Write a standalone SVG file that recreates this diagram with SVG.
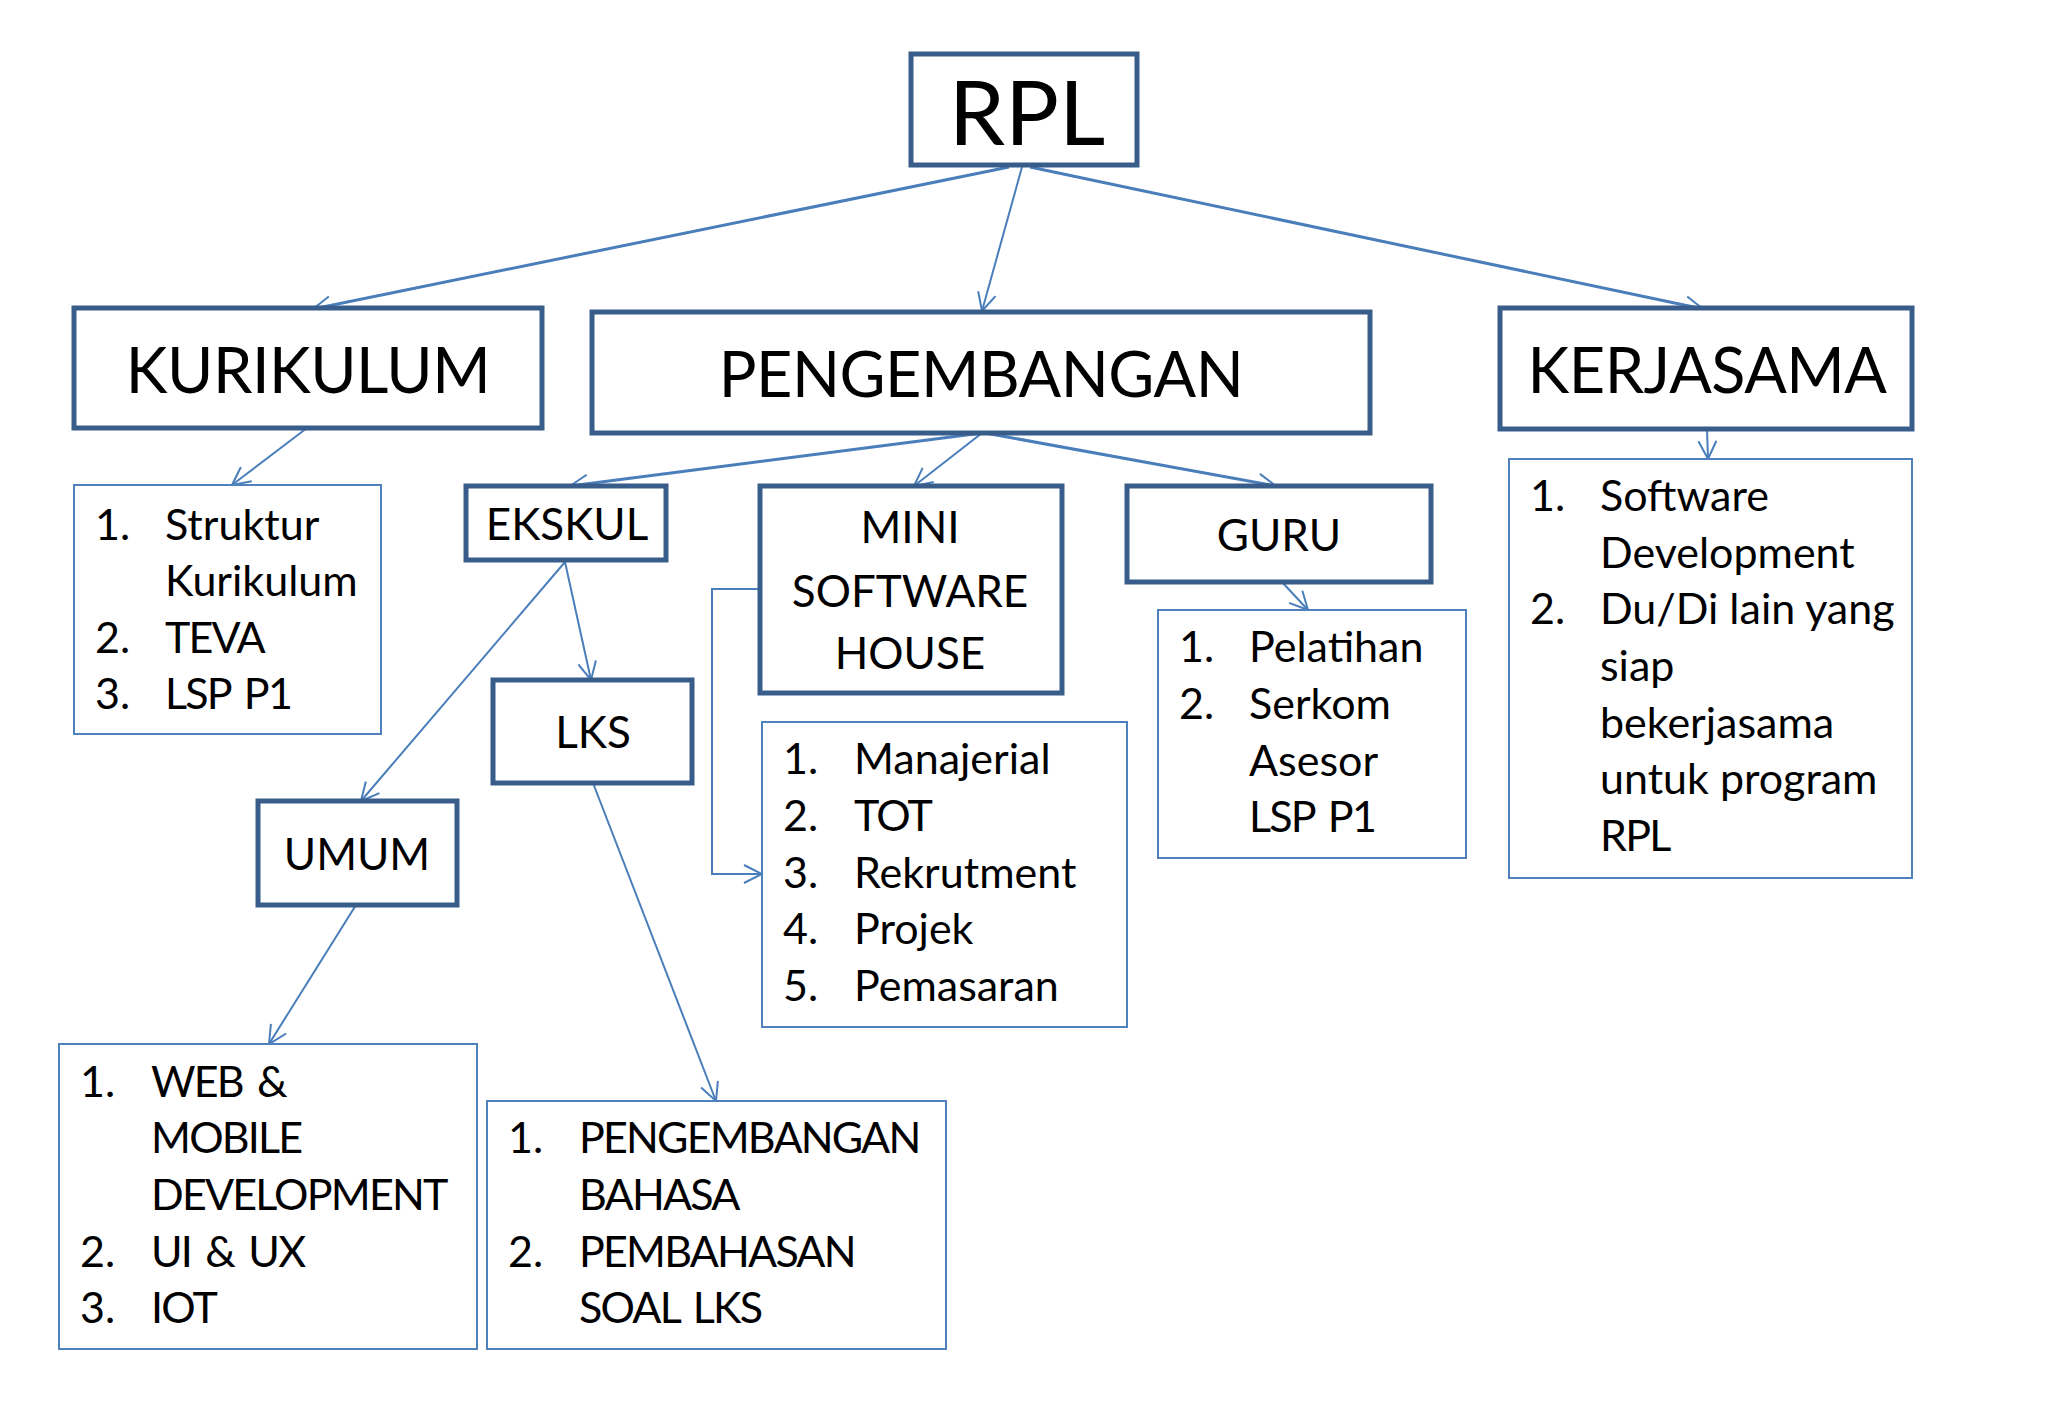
<svg xmlns="http://www.w3.org/2000/svg" width="2048" height="1418" viewBox="0 0 2048 1418">
<style>
.bg{fill:#ffffff}
.thick{fill:#ffffff;stroke:#385D8A;stroke-width:5}
.thin{fill:#ffffff;stroke:#4F81BD;stroke-width:2}
text{font-family:Lato,"Open Sans","Liberation Sans",sans-serif;fill:#000000}
.h{font-size:63px;text-anchor:middle;letter-spacing:-0.5px}
.m{font-size:44px;text-anchor:middle}
.l{font-size:43px}
.u{letter-spacing:-1.8px;word-spacing:5px}
.c{fill:none;stroke:#4A7EBB;stroke-width:2;marker-end:url(#arr)}
.ct{fill:none;stroke:#4A7EBB;stroke-width:3;marker-end:url(#arr)}
</style>
<defs>
<marker id="arr" viewBox="0 0 20 20" refX="19" refY="10" markerWidth="20" markerHeight="20" markerUnits="userSpaceOnUse" orient="auto">
<path d="M1,1 L19,10 L1,19" fill="none" stroke="#4A7EBB" stroke-width="2"/>
</marker>
</defs>
<rect class="bg" x="0" y="0" width="2048" height="1418"/>
<g id="connectors">
<line class="ct" x1="1009" y1="167" x2="313" y2="309"/>
<line class="c" x1="1022" y1="167" x2="982" y2="311"/>
<line class="ct" x1="1030" y1="167" x2="1703" y2="309"/>
<line class="c" x1="307" y1="428" x2="232" y2="485"/>
<line class="ct" x1="982" y1="433" x2="570" y2="486"/>
<line class="c" x1="982" y1="433" x2="914" y2="486"/>
<line class="ct" x1="985" y1="433" x2="1276" y2="486"/>
<line class="c" x1="1707" y1="429" x2="1708" y2="459"/>
<line class="c" x1="1282" y1="582" x2="1308" y2="610"/>
<line class="c" x1="565" y1="562" x2="361" y2="801"/>
<line class="c" x1="565" y1="562" x2="591" y2="680"/>
<line class="c" x1="356" y1="905" x2="269" y2="1044"/>
<line class="c" x1="593" y1="783" x2="716" y2="1101"/>
<polyline class="c" points="760,589 712,589 712,874 762,874"/>
</g>
<g id="rpl">
<rect class="thick" x="911" y="54" width="226" height="111"/>
<text x="1027" y="145" style="font-size:90px;text-anchor:middle">RPL</text>
</g>
<g id="kurikulum">
<rect class="thick" x="74" y="308" width="468" height="120"/>
<text class="h" x="308" y="393">KURIKULUM</text>
</g>
<g id="pengembangan">
<rect class="thick" x="592" y="312" width="778" height="121"/>
<text class="h" x="981" y="397">PENGEMBANGAN</text>
</g>
<g id="kerjasama">
<rect class="thick" x="1500" y="308" width="412" height="121"/>
<text class="h" x="1707" y="393">KERJASAMA</text>
</g>
<g id="kurikulum-list">
<rect class="thin" x="74" y="485" width="307" height="249"/>
<text class="l" x="95" y="540">1.</text><text class="l" x="165" y="540">Struktur</text>
<text class="l" x="165" y="596">Kurikulum</text>
<text class="l" x="95" y="653">2.</text><text class="l u" x="165" y="653">TEVA</text>
<text class="l" x="95" y="709">3.</text><text class="l u" x="165" y="709">LSP P1</text>
</g>
<g id="ekskul">
<rect class="thick" x="466" y="486" width="200" height="74"/>
<text class="m" x="567" y="540">EKSKUL</text>
</g>
<g id="msh">
<rect class="thick" x="760" y="486" width="302" height="207"/>
<text class="m" x="910" y="543">MINI</text>
<text class="m" x="910" y="607">SOFTWARE</text>
<text class="m" x="910" y="669">HOUSE</text>
</g>
<g id="guru">
<rect class="thick" x="1127" y="486" width="304" height="96"/>
<text class="m" x="1279" y="551">GURU</text>
</g>
<g id="lks">
<rect class="thick" x="493" y="680" width="199" height="103"/>
<text class="m" x="593" y="748">LKS</text>
</g>
<g id="umum">
<rect class="thick" x="258" y="801" width="199" height="104"/>
<text class="m" x="357" y="870">UMUM</text>
</g>
<g id="msh-list">
<rect class="thin" x="762" y="722" width="365" height="305"/>
<text class="l" x="783" y="774">1.</text><text class="l" x="854" y="774">Manajerial</text>
<text class="l" x="783" y="831">2.</text><text class="l u" x="854" y="831">TOT</text>
<text class="l" x="783" y="888">3.</text><text class="l" x="854" y="888">Rekrutment</text>
<text class="l" x="783" y="944">4.</text><text class="l" x="854" y="944">Projek</text>
<text class="l" x="783" y="1001">5.</text><text class="l" x="854" y="1001">Pemasaran</text>
</g>
<g id="guru-list">
<rect class="thin" x="1158" y="610" width="308" height="248"/>
<text class="l" x="1179" y="662">1.</text><text class="l" x="1249" y="662">Pelatihan</text>
<text class="l" x="1179" y="719">2.</text><text class="l" x="1249" y="719">Serkom</text>
<text class="l" x="1249" y="776">Asesor</text>
<text class="l u" x="1249" y="832">LSP P1</text>
</g>
<g id="kerjasama-list">
<rect class="thin" x="1509" y="459" width="403" height="419"/>
<text class="l" x="1530" y="511">1.</text><text class="l" x="1600" y="511">Software</text>
<text class="l" x="1600" y="568">Development</text>
<text class="l" x="1530" y="624">2.</text><text class="l" x="1600" y="624">Du/Di lain yang</text>
<text class="l" x="1600" y="681">siap</text>
<text class="l" x="1600" y="738">bekerjasama</text>
<text class="l" x="1600" y="794">untuk program</text>
<text class="l u" x="1600" y="851">RPL</text>
</g>
<g id="umum-list">
<rect class="thin" x="59" y="1044" width="418" height="305"/>
<text class="l" x="80" y="1097">1.</text><text class="l u" x="151" y="1097">WEB &amp;</text>
<text class="l u" x="151" y="1153">MOBILE</text>
<text class="l u" x="151" y="1210">DEVELOPMENT</text>
<text class="l" x="80" y="1267">2.</text><text class="l u" x="151" y="1267">UI &amp; UX</text>
<text class="l" x="80" y="1323">3.</text><text class="l u" x="151" y="1323">IOT</text>
</g>
<g id="lks-list">
<rect class="thin" x="487" y="1101" width="459" height="248"/>
<text class="l" x="508" y="1153">1.</text><text class="l u" x="579" y="1153">PENGEMBANGAN</text>
<text class="l u" x="579" y="1210">BAHASA</text>
<text class="l" x="508" y="1267">2.</text><text class="l u" x="579" y="1267">PEMBAHASAN</text>
<text class="l u" x="579" y="1323">SOAL LKS</text>
</g>
</svg>
